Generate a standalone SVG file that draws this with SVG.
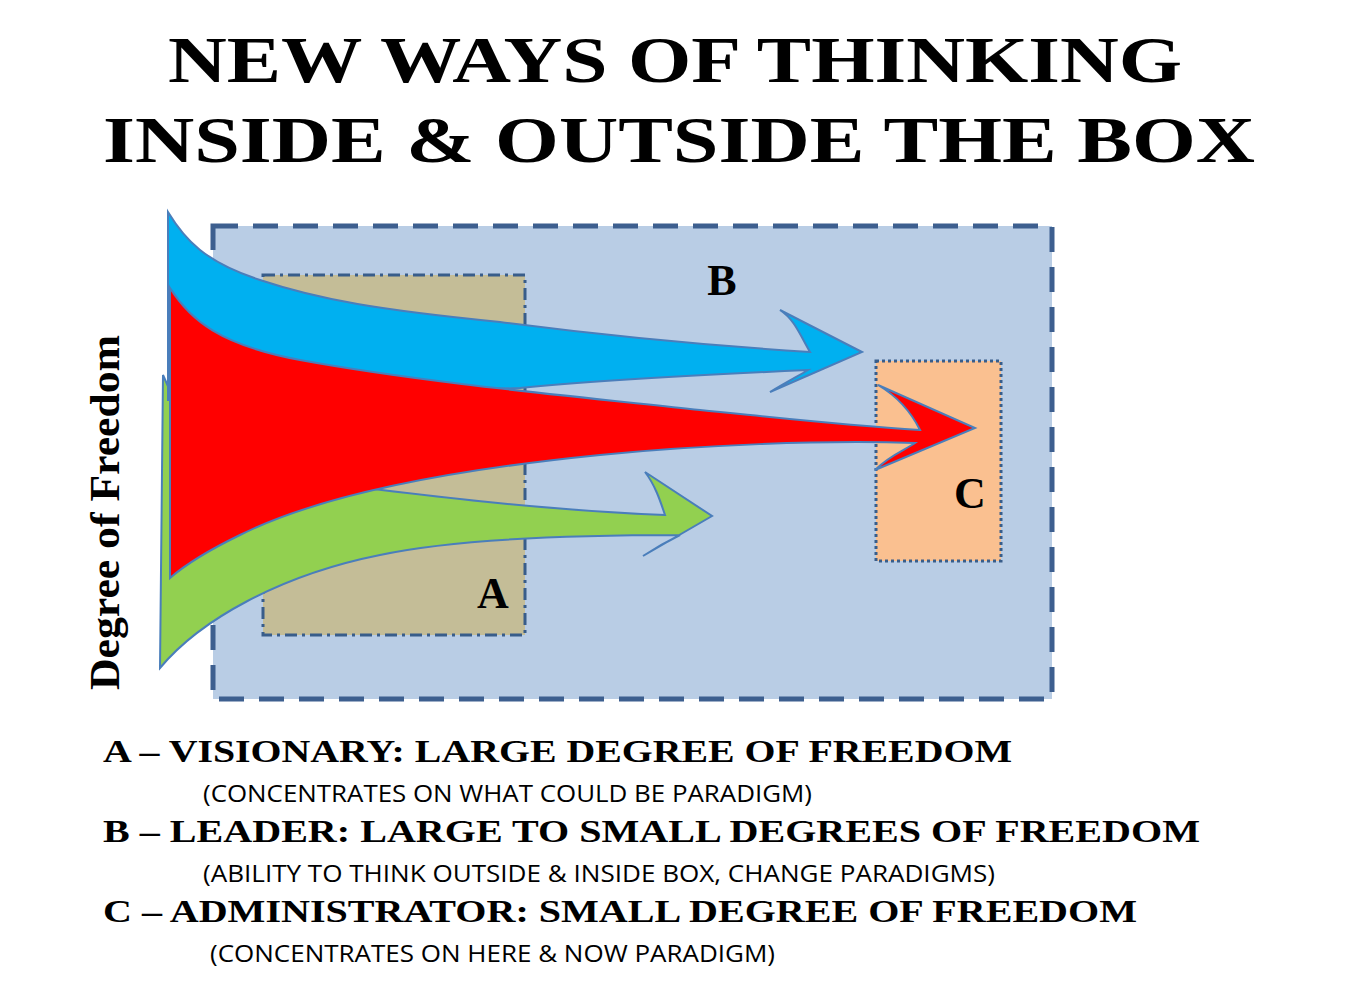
<svg xmlns="http://www.w3.org/2000/svg" width="1352" height="983" viewBox="0 0 1352 983">
<style>
.t{font-family:"Liberation Serif",serif;font-weight:bold;fill:#000}
.s{font-family:"Open Sans","Liberation Sans",sans-serif;fill:#000;font-size:23px}
.ar{stroke:#4a7ebb;stroke-width:2}
</style>
<rect width="1352" height="983" fill="#fff"/>
<text class="t" x="168" y="82" font-size="66" textLength="1014" lengthAdjust="spacingAndGlyphs">NEW WAYS OF THINKING</text>
<text class="t" x="103" y="162" font-size="66" textLength="1152" lengthAdjust="spacingAndGlyphs">INSIDE &amp; OUTSIDE THE BOX</text>
<g id="outer"><rect x="213" y="226" width="839" height="473" fill="#b9cde5" stroke="#3d5f8f" stroke-width="5" stroke-dasharray="25 15"/></g>
<g id="boxA"><rect x="263" y="275" width="262" height="360" fill="#c4bd97" stroke="#385d8a" stroke-width="3" stroke-dasharray="12 5 3 5"/></g>
<g id="boxC"><rect x="876" y="361" width="125" height="200" fill="#fac090" stroke="#385d8a" stroke-width="3" stroke-dasharray="3 3"/></g>
<g id="connectors">
<path id="green" class="ar" fill="#92d050" d="M163,375 C190,440 230,470 300,480 C420,495 540,510 665,515 C660,500 655,485 645,472 L712,516 L643,556 C660,545 670,540 680,535 C560,535 450,540 380,555 C280,575 200,620 160,668 Z"/>
<path id="blue" class="ar" fill="#00b0f0" d="M168,212 C185,240 205,262 260,280 C320,300 380,310 500,322 C600,335 700,345 810,352 C800,335 795,320 780,310 L862,352 L770,392 C790,380 800,375 808,370 C700,375 600,380 520,388 C400,392 250,395 168,400 Z"/>
<path id="red" class="ar" fill="#ff0000" d="M170,288 C190,320 220,345 300,360 C420,382 560,395 700,410 C780,418 840,425 920,430 C910,410 895,395 878,385 L975,428 L875,470 C890,455 905,450 915,443 C820,440 700,445 600,455 C450,470 320,495 240,535 C205,552 185,565 170,578 Z"/>
</g>
<text class="t" x="722" y="295" font-size="44" text-anchor="middle">B</text>
<text class="t" x="970" y="508" font-size="44" text-anchor="middle">C</text>
<text class="t" x="493" y="608" font-size="44" text-anchor="middle">A</text>
<text class="t" font-size="42" transform="translate(119,690) rotate(-90)" textLength="355" lengthAdjust="spacingAndGlyphs">Degree of Freedom</text>
<text class="t" x="103" y="762" font-size="32" textLength="909" lengthAdjust="spacingAndGlyphs">A – VISIONARY: LARGE DEGREE OF FREEDOM</text>
<text class="s" x="203" y="802" textLength="609" lengthAdjust="spacingAndGlyphs">(CONCENTRATES ON WHAT COULD BE PARADIGM)</text>
<text class="t" x="103" y="842" font-size="32" textLength="1097" lengthAdjust="spacingAndGlyphs">B – LEADER: LARGE TO SMALL DEGREES OF FREEDOM</text>
<text class="s" x="203" y="882" textLength="792" lengthAdjust="spacingAndGlyphs">(ABILITY TO THINK OUTSIDE &amp; INSIDE BOX, CHANGE PARADIGMS)</text>
<text class="t" x="103" y="922" font-size="32" textLength="1034" lengthAdjust="spacingAndGlyphs">C – ADMINISTRATOR: SMALL DEGREE OF FREEDOM</text>
<text class="s" x="210" y="962" textLength="565" lengthAdjust="spacingAndGlyphs">(CONCENTRATES ON HERE &amp; NOW PARADIGM)</text>
</svg>
